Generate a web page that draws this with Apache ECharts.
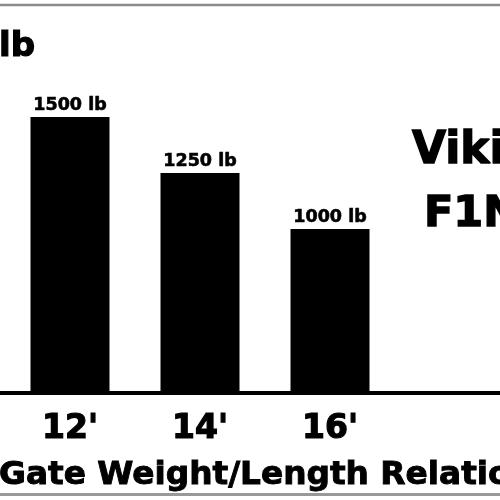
<!DOCTYPE html>
<html>
<head>
<meta charset="utf-8">
<script src="https://cdn.jsdelivr.net/npm/echarts@6/dist/echarts.min.js"></script>
<style>html,body{margin:0;padding:0;background:#fff}#c{width:500px;height:500px}</style>
</head>
<body>
<div id="c"></div>
<script>
const categories = ["12'", "14'", "16'"];
const weights = [1500, 1250, 1000];
const weightLabels = ["1500 lb", "1250 lb", "1000 lb"];
const axisTitle = "Gate Weight/Length Relationship";
const topText = "lb";
const brandLine1 = "Viking";
const brandLine2 = "F1N";

const FONT = "DejaVu Sans";
const chart = echarts.init(document.getElementById('c'), null, {renderer: 'canvas'});
chart.setOption({
  backgroundColor: '#ffffff',
  animation: false,
  grid: {left: 5, right: 105, top: 5, bottom: 107, containLabel: false},
  xAxis: {
    type: 'category',
    data: categories,
    axisLine: {show: true, lineStyle: {color: '#000', width: 4}},
    axisTick: {show: false},
    axisLabel: {fontFamily: FONT, fontWeight: 'bold', fontSize: 33, color: '#000', margin: 20,
      textBorderColor: '#000', textBorderWidth: 1.2}
  },
  yAxis: {
    type: 'value', min: 268, max: 2000, show: false,
    splitLine: {show: false}
  },
  series: [{
    type: 'bar',
    data: weights,
    barWidth: 79,
    itemStyle: {color: '#000'},
    label: {
      show: true, position: 'top', distance: 3,
      fontFamily: FONT, fontWeight: 'bold', fontSize: 17.5, color: '#000',
      textBorderColor: '#000', textBorderWidth: 0.6,
      formatter: p => weightLabels[p.dataIndex]
    }
  }],
  graphic: [
    {type: 'line', shape: {x1: 0, y1: 5, x2: 500, y2: 5}, style: {stroke: '#8a8a8a', lineWidth: 2.5}},
    {type: 'line', shape: {x1: 0, y1: 494.5, x2: 500, y2: 494.5}, style: {stroke: '#999', lineWidth: 3}},
    {type: 'line', shape: {x1: 0, y1: 393, x2: 500, y2: 393}, style: {stroke: '#000', lineWidth: 4}},
    {type: 'text', x: -1, y: 47, style: {text: topText, font: 'bold 34px "DejaVu Sans"', fill: '#000', stroke: '#000', lineWidth: 1.2, verticalAlign: 'middle'}},
    {type: 'text', x: 412, y: 152, style: {text: brandLine1, font: 'bold 44px "DejaVu Sans"', fill: '#000', stroke: '#000', lineWidth: 1.4, verticalAlign: 'middle'}},
    {type: 'text', x: 424, y: 215, style: {text: brandLine2, font: 'bold 43px "DejaVu Sans"', fill: '#000', stroke: '#000', lineWidth: 1.4, verticalAlign: 'middle'}},
    {type: 'text', x: -1, y: 476, scaleX: 1.04, style: {text: axisTitle, font: 'bold 31.5px "DejaVu Sans"', fill: '#000', stroke: '#000', lineWidth: 0.9, verticalAlign: 'middle'}}
  ]
});
</script>
</body>
</html>
